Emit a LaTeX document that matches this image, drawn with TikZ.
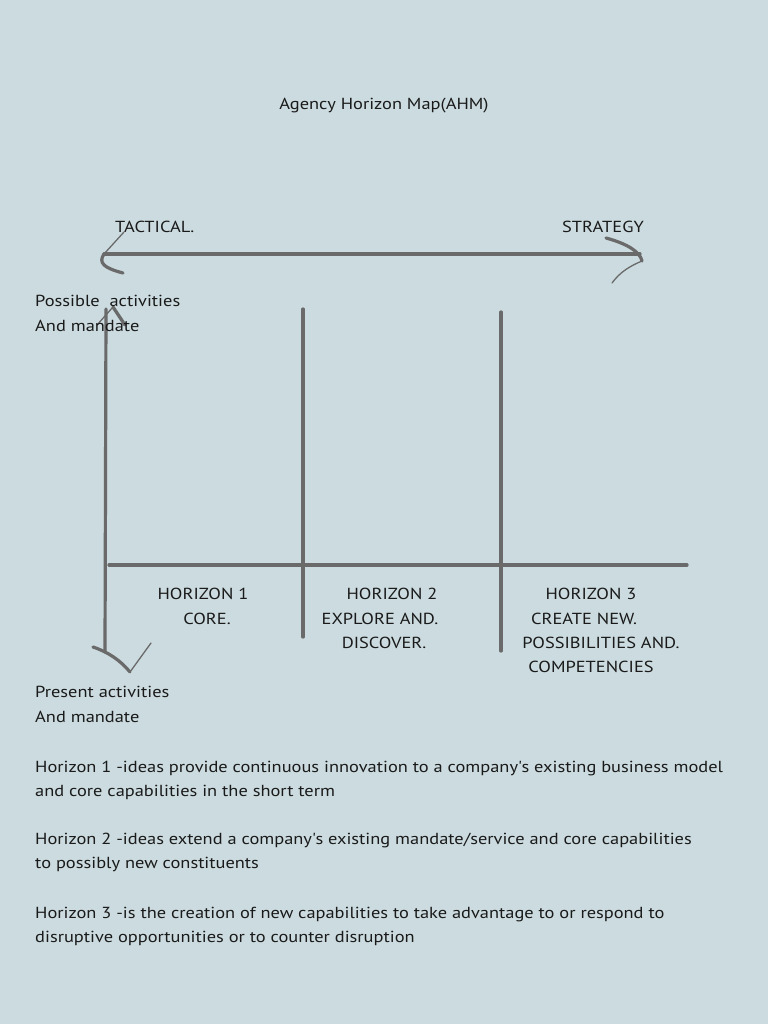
\documentclass[tikz,border=0pt]{standalone}
\usepackage{fontspec}
\setmainfont[FakeStretch=1.15]{PT Sans}
\definecolor{bg}{HTML}{CBDBDF}
\definecolor{ink}{HTML}{1A1A1A}
\definecolor{stroke}{HTML}{6A6A6A}
\newcommand{\apos}{\textquotesingle}
\begin{document}
\begin{tikzpicture}[x=1pt,y=-1pt,
  txt/.style={text=ink,inner sep=0pt,font=\fontsize{16}{19}\selectfont},
  caplbl/.style={text=ink,inner sep=0pt,font=\fontsize{16}{19}\selectfont,anchor=base},
  thickline/.style={draw=stroke,line width=3.2pt,line cap=round},
  thinline/.style={draw=stroke,line width=1.3pt,line cap=round}]
\fill[bg] (0,0) rectangle (768,1024);
\useasboundingbox (0,0) rectangle (768,1024);
% title
\node[txt,anchor=base] (title) at (384,110) {Agency Horizon Map(AHM)};
\node[txt,anchor=base west] (tact) at (115,233) {TACTICAL.};
\node[txt,anchor=base east] (strat) at (644,233) {STRATEGY};
% horizontal double arrow
\coordinate (hl) at (104,254);
\coordinate (hr) at (640,254);
\draw[thickline] (hl) -- (hr);
\coordinate (hlthin) at (124,232);
\coordinate (hlcurl) at (123,273);
\draw[thinline] (hl) -- (hlthin);
\draw[thickline] (hl) .. controls (98,263) and (104,268) .. (hlcurl);
\coordinate (hrs) at (606,238);
\coordinate (hrtip) at (642,261);
\coordinate (hrthin) at (612,283);
\draw[thickline] (hrs) .. controls (628,244) and (640,252) .. (hrtip);
\draw[thinline] (hrtip) .. controls (630,266) and (620,272) .. (hrthin);
% vertical double arrow
\coordinate (vt) at (106,309);
\coordinate (vb) at (105,652);
\draw[thickline] (vt) -- (vb);
\coordinate (vtip) at (113,307);
\coordinate (vtl) at (97,325);
\coordinate (vtr) at (125,325);
\draw[thinline] (vtip) -- (vtl);
\draw[thickline] (vtip) -- (vtr);
\coordinate (vbs) at (93,647);
\coordinate (vbtip) at (130,672);
\coordinate (vbthin) at (151,643);
\draw[thickline] (vbs) .. controls (108,652) and (120,660) .. (vbtip);
\draw[thinline] (vbtip) -- (vbthin);
% grid
\coordinate (b1) at (109,565);
\coordinate (b2) at (687,565);
\draw[thickline] (b1) -- (b2);
\coordinate (d1t) at (303,309);
\coordinate (d1b) at (303,637);
\coordinate (d2t) at (501,312);
\coordinate (d2b) at (501,651);
\draw[thickline] (d1t) -- (d1b);
\draw[thickline] (d2t) -- (d2b);
% side labels
\node[txt,anchor=base west] (poss1) at (35,306) {Possible\ \ activities};
\node[txt,anchor=base west] (poss2) at (35,331) {And mandate};
\node[txt,anchor=base west] (pres1) at (35,697) {Present activities};
\node[txt,anchor=base west] (pres2) at (35,722) {And mandate};
% horizon labels
\node[caplbl] (h1a) at (203,599) {HORIZON 1};
\node[caplbl] (h1b) at (207,624) {CORE.};
\node[caplbl] (h2a) at (392,599) {HORIZON 2};
\node[caplbl] (h2b) at (380,624) {EXPLORE AND.};
\node[caplbl] (h2c) at (384,648) {DISCOVER.};
\node[caplbl] (h3a) at (591,599) {HORIZON 3};
\node[caplbl] (h3b) at (584,624) {CREATE NEW.};
\node[caplbl] (h3c) at (601,648) {POSSIBILITIES AND.};
\node[caplbl] (h3d) at (591,672) {COMPETENCIES};
% descriptions
\node[txt,anchor=base west] (p1a) at (35,772) {Horizon 1 -ideas provide continuous innovation to a company\apos s existing business model};
\node[txt,anchor=base west] (p1b) at (35,796) {and core capabilities in the short term};
\node[txt,anchor=base west] (p2a) at (35,844) {Horizon 2 -ideas extend a company\apos s existing mandate/service and core capabilities};
\node[txt,anchor=base west] (p2b) at (35,868) {to possibly new constituents};
\node[txt,anchor=base west] (p3a) at (35,918) {Horizon 3 -is the creation of new capabilities to take advantage to or respond to};
\node[txt,anchor=base west] (p3b) at (35,942) {disruptive opportunities or to counter disruption};
\end{tikzpicture}
\end{document}
